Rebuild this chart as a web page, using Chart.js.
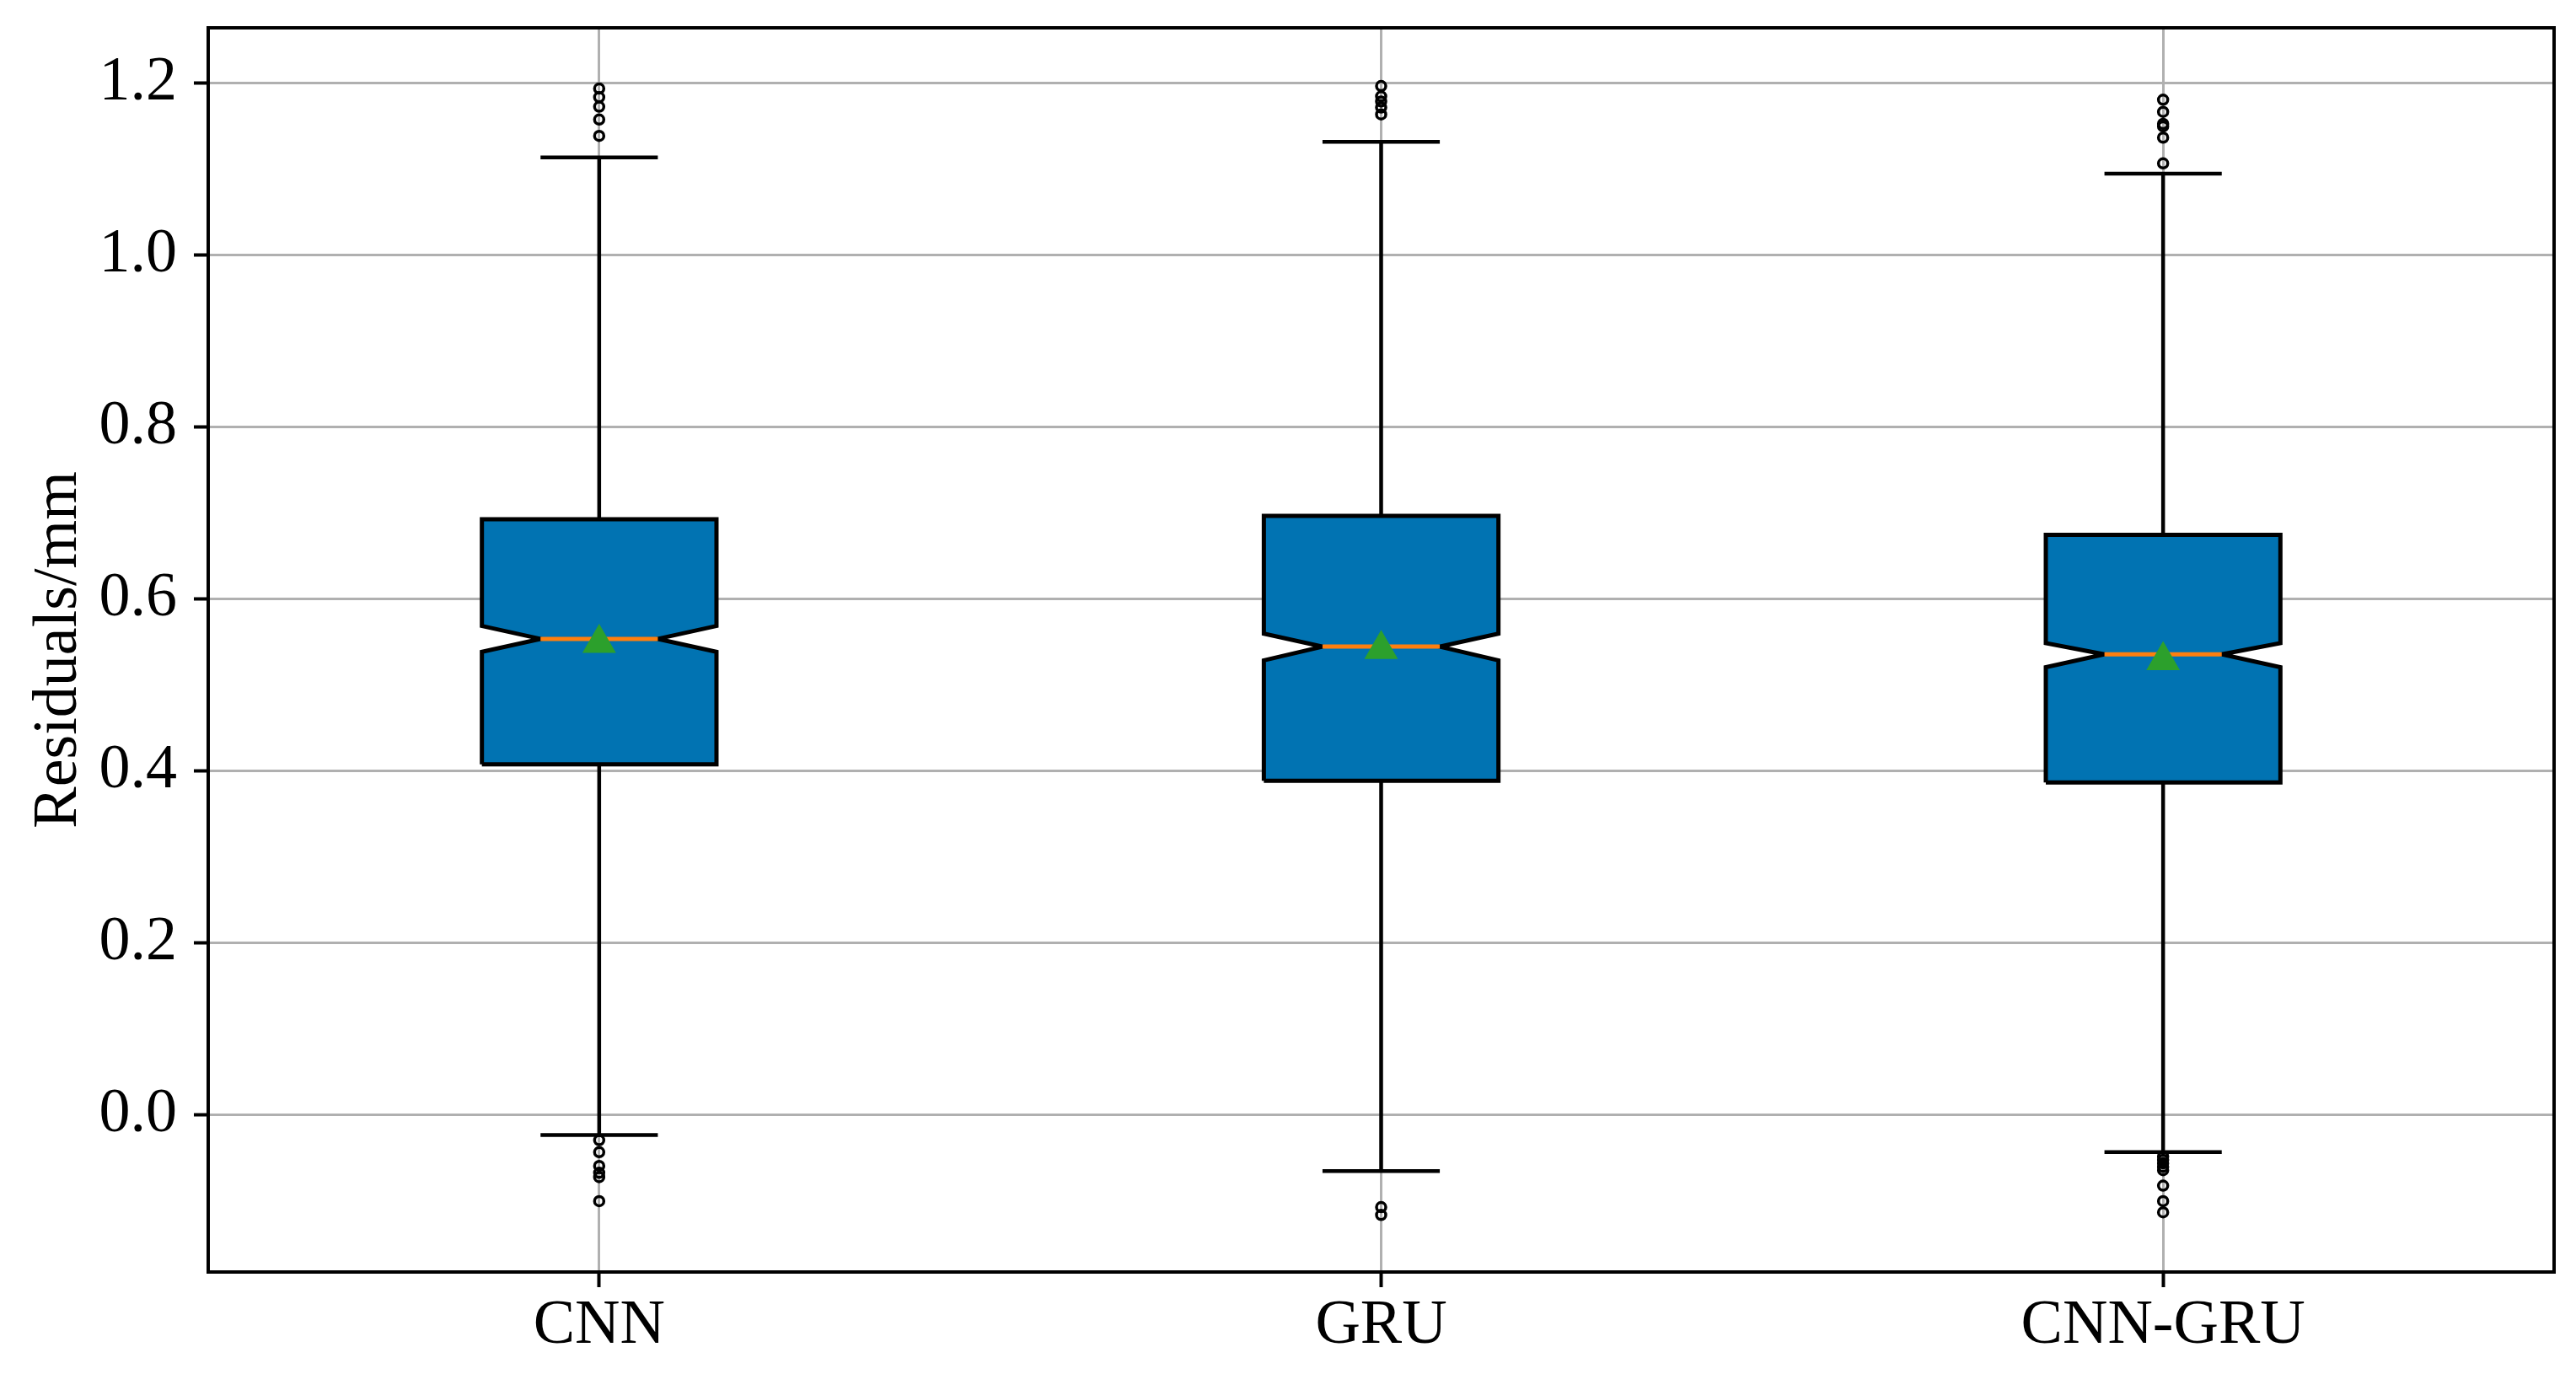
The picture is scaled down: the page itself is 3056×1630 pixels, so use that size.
<!DOCTYPE html>
<html>
<head>
<meta charset="utf-8">
<title>Residuals box plot</title>
<script src="https://cdn.jsdelivr.net/npm/chart.js@4/dist/chart.umd.min.js"></script>
<style>
  html, body { margin: 0; padding: 0; background: #fff; overflow: hidden; }
  canvas { display: block; }
</style>
</head>
<body>
<canvas id="chart-box" width="3056" height="1630"></canvas>
<script>
// ============================================================
// Notched box plot of residuals (CNN / GRU / CNN-GRU)
// ============================================================

const CATEGORIES = ['CNN', 'GRU', 'CNN-GRU'];
const POSITIONS  = [1, 2, 3];

const Q1         = [0.408, 0.389, 0.387];
const Q3         = [0.693, 0.697, 0.675];
const MEDIANS    = [0.554, 0.545, 0.536];
const NOTCH_LO   = [0.539, 0.529, 0.521];
const NOTCH_HI   = [0.569, 0.560, 0.549];
const MEANS      = [0.549, 0.542, 0.529];
const WHISK_LO   = [-0.023, -0.065, -0.043];
const WHISK_HI   = [1.114, 1.132, 1.095];

const OUTLIERS = [
  [1.194, 1.184, 1.173, 1.158, 1.139, -0.029, -0.043, -0.059, -0.067, -0.072, -0.100],
  [1.197, 1.185, 1.179, 1.172, 1.164, -0.107, -0.116],
  [1.181, 1.167, 1.153, 1.150, 1.137, 1.107, -0.048, -0.052, -0.056, -0.060, -0.064, -0.082, -0.100, -0.113],
];

const Y_TICKS = [0.0, 0.2, 0.4, 0.6, 0.8, 1.0, 1.2];
const Y_MIN   = -0.1824;
const Y_MAX   = 1.2647;

const BOX_WIDTH = 0.3;
const FONT      = { family: 'Liberation Serif', size: 74 };
const BOX_BLUE  = '#0173b2';

// polygon outline of a notched box, walked clockwise from lower-left
function _boxShape(i) {
  const p = POSITIONS[i];
  const l = p - BOX_WIDTH / 2, r = p + BOX_WIDTH / 2;
  const nl = p - BOX_WIDTH / 4, nr = p + BOX_WIDTH / 4;
  return [
    { x: l,  y: Q1[i] },
    { x: l,  y: NOTCH_LO[i] },
    { x: nl, y: MEDIANS[i] },
    { x: l,  y: NOTCH_HI[i] },
    { x: l,  y: Q3[i] },
    { x: r,  y: Q3[i] },
    { x: r,  y: NOTCH_HI[i] },
    { x: nr, y: MEDIANS[i] },
    { x: r,  y: NOTCH_LO[i] },
    { x: r,  y: Q1[i] },
    { x: l,  y: Q1[i] },
  ];
}

// whisker stems + caps, broken with null gaps
function _whiskers(i) {
  const p = POSITIONS[i];
  const c = BOX_WIDTH / 4;
  return [
    { x: p, y: Q1[i] }, { x: p, y: WHISK_LO[i] }, { x: p, y: null },
    { x: p - c, y: WHISK_LO[i] }, { x: p + c, y: WHISK_LO[i] }, { x: p, y: null },
    { x: p, y: Q3[i] }, { x: p, y: WHISK_HI[i] }, { x: p, y: null },
    { x: p - c, y: WHISK_HI[i] }, { x: p + c, y: WHISK_HI[i] },
  ];
}

function _lineSet(data, extra) {
  return Object.assign({
    data,
    showLine:        true,
    tension:         0,
    pointRadius:     0,
    pointHitRadius:  0,
    spanGaps:        false,
    borderColor:     '#000',
    borderWidth:     4.5,
    borderJoinStyle: 'miter',
    fill:            false,
  }, extra);
}

const datasets = [];

// first dataset is painted last, so marks on top go first
datasets.push({
  label:           'mean',
  data:            POSITIONS.map((p, i) => ({ x: p, y: MEANS[i] })),
  pointStyle:      'triangle',
  pointRadius:     23,
  backgroundColor: '#2ca02c',
  borderColor:     '#2ca02c',
  borderWidth:     0,
});

POSITIONS.forEach((p, i) => {
  datasets.push(_lineSet([
    { x: p - BOX_WIDTH / 4, y: MEDIANS[i] },
    { x: p + BOX_WIDTH / 4, y: MEDIANS[i] },
  ], { label: 'median ' + CATEGORIES[i], borderColor: '#ff7f0e', borderWidth: 5 }));
});

datasets.push({
  label:           'outliers',
  data:            OUTLIERS.flatMap((vals, i) => vals.map(v => ({ x: POSITIONS[i], y: v }))),
  pointStyle:      'circle',
  pointRadius:     5.5,
  backgroundColor: 'rgba(0,0,0,0)',
  borderColor:     '#000',
  borderWidth:     3.5,
});

POSITIONS.forEach((p, i) => {
  datasets.push(_lineSet(_boxShape(i), {
    label: 'box ' + CATEGORIES[i], fill: 'shape', backgroundColor: BOX_BLUE, borderWidth: 5,
  }));
});

POSITIONS.forEach((p, i) => {
  datasets.push(_lineSet(_whiskers(i), { label: 'whiskers ' + CATEGORIES[i] }));
});

const framePlugin = {
  id: 'frame',
  afterDraw(chart) {
    const { ctx, chartArea: { left, top, right, bottom } } = chart;
    ctx.save();
    ctx.strokeStyle = '#000';
    ctx.lineWidth   = 4;
    ctx.strokeRect(left, top, right - left, bottom - top);
    ctx.restore();
  },
};

// fixed axis sizes, no extra label overhang padding
const _fitX = s => { s.height = 121; s.paddingLeft = 0; s.paddingRight = 0; };
const _fitY = s => { s.width = 247; s.paddingTop = 0; s.paddingBottom = 0; };

new Chart(document.getElementById('chart-box'), {
  type: 'scatter',
  data: { datasets },
  options: {
    responsive:       false,
    animation:        false,
    devicePixelRatio: 1,
    layout: { padding: { top: 33, right: 26, left: 0, bottom: 0 } },
    plugins: {
      legend:  { display: false },
      tooltip: { enabled: false },
    },
    scales: {
      x: {
        type: 'linear',
        min:  0.5,
        max:  3.5,
        afterBuildTicks: s => { s.ticks = POSITIONS.map(v => ({ value: v })); },
        afterFit:        _fitX,
        ticks: {
          color:    '#000',
          font:     FONT,
          padding:  2,
          maxRotation: 0,
          callback: v => CATEGORIES[POSITIONS.indexOf(v)] ?? '',
        },
        grid: {
          color:      '#b0b0b0',
          lineWidth:  3,
          tickColor:  '#000',
          tickLength: 18,
          tickWidth:  4,
        },
        border: { color: '#000', width: 4 },
      },
      y: {
        min: Y_MIN,
        max: Y_MAX,
        afterBuildTicks: s => { s.ticks = Y_TICKS.map(v => ({ value: v })); },
        afterFit:        _fitY,
        ticks: {
          color:    '#000',
          font:     FONT,
          padding:  20,
          callback: v => v.toFixed(1),
        },
        grid: {
          color:      '#b0b0b0',
          lineWidth:  3,
          tickColor:  '#000',
          tickLength: 17,
          tickWidth:  4,
        },
        border: { color: '#000', width: 4 },
        title: {
          display: true,
          text:    'Residuals/mm',
          color:   '#000',
          font:    FONT,
          padding: { top: 26, bottom: 0 },
        },
      },
    },
  },
  plugins: [framePlugin],
});
</script>
</body>
</html>
